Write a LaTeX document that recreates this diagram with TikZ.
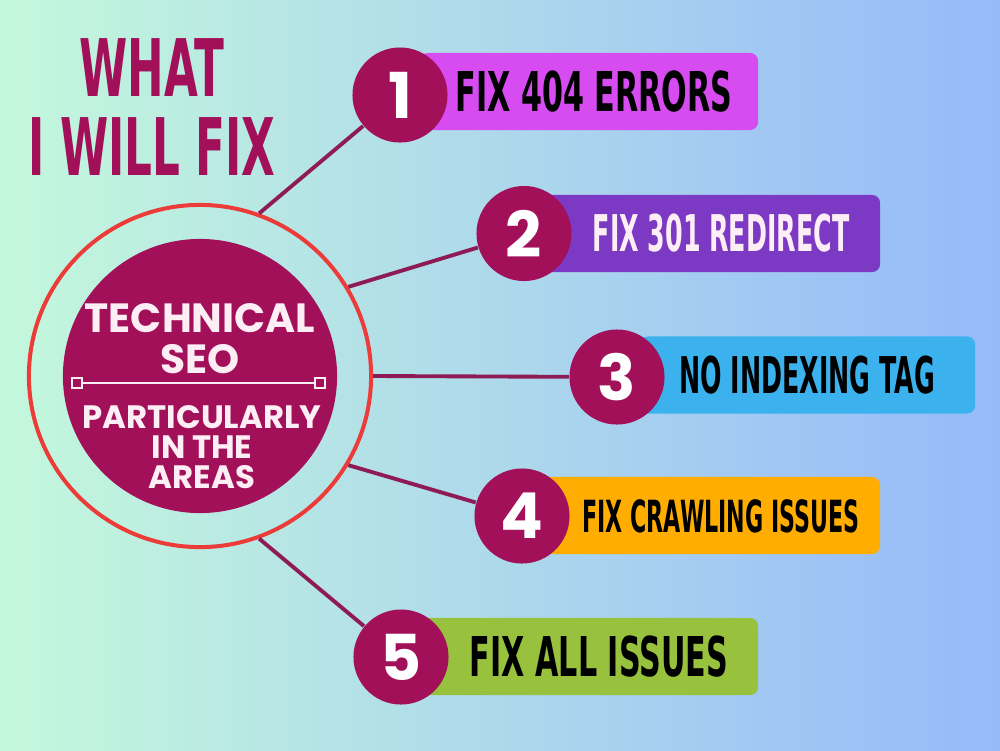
\documentclass[tikz,border=0pt]{standalone}
\usepackage{fontspec}
\setmainfont{Poppins}
\newfontfamily\headfont[FakeStretch=0.55]{DejaVu Sans}
\newfontfamily\slimfont[FakeStretch=0.5]{DejaVu Sans}
\usepackage {tikz}
\usetikzlibrary {positioning}

\definecolor{bgleft}{RGB}{196,248,220}
\definecolor{bgright}{RGB}{150,185,250}
\definecolor{seored}{RGB}{163,16,90}
\definecolor{seowire}{RGB}{142,26,86}
\definecolor{seoring}{RGB}{236,60,58}
\definecolor{seopale}{RGB}{253,238,245}
\definecolor{barone}{RGB}{214,76,240}
\definecolor{bartwo}{RGB}{124,58,196}
\definecolor{barthree}{RGB}{59,178,238}
\definecolor{barfour}{RGB}{255,173,0}
\definecolor{barfive}{RGB}{152,193,62}

\begin{document}
\begin{tikzpicture}[x=0.01cm,y=0.01cm,
	badge/.style={circle,fill=seored,minimum size=0.95cm,inner sep=0pt,text=white,font=\fontsize{18}{18}\selectfont\bfseries},
	bar/.style={rounded corners=0.08cm,minimum height=0.77cm,inner sep=0pt},
	tag/.style={inner sep=0pt,font=\headfont\bfseries\fontsize{#1}{#1}\selectfont},
	slimtag/.style={inner sep=0pt,font=\slimfont\bfseries\fontsize{#1}{#1}\selectfont},
	link/.style={draw=seowire,line width=1.1pt},
	tick/.style={draw=seopale,fill=seored,line width=0.75pt,minimum size=0.1cm,inner sep=0pt}]
	\useasboundingbox (0,0) rectangle (1000,750);
	\shade[left color=bgleft,right color=bgright] (0,0) rectangle (1000,750);
	% title
	\node[text=seored,align=center,inner sep=0pt,font=\headfont\bfseries\fontsize{22.6}{22.2}\selectfont] (what) at (152,643) {WHAT\\I WILL FIX};
	% hub
	\node[circle,draw=seoring,line width=1.14pt,minimum size=3.42cm] (ring) at (200,374) {};
	\node[circle,fill=seored,minimum size=2.74cm] (core) at (ring) {};
	\node[text=seopale,align=center,inner sep=0pt,font=\fontsize{11.6}{11.7}\selectfont\bfseries] (tech) at (200,411) {TECHNICAL\\SEO};
	\node[tick] (lt) at (77,367) {};
	\node[tick] (rt) at (320,367) {};
	\draw[seopale,line width=0.75pt] (lt) -- (rt);
	\node[text=seopale,align=center,inner sep=0pt,font=\fontsize{9.2}{8.5}\selectfont\bfseries] (areas) at (202,303) {PARTICULARLY\\IN THE\\AREAS};
	% bars
	\node[bar,fill=barone,minimum width=3.38cm] (r1) at (589,658.5) {};
	\node[bar,fill=bartwo,minimum width=3.50cm] (r2) at (705,516.5) {};
	\node[bar,fill=barthree,minimum width=3.35cm] (r3) at (807.5,375) {};
	\node[bar,fill=barfour,minimum width=3.45cm] (r4) at (707.5,234.5) {};
	\node[bar,fill=barfive,minimum width=3.38cm] (r5) at (589,93.5) {};
	\node[tag=15.6] (t1) at (594,658) {FIX 404 ERRORS};
	\node[slimtag=14.4,text=seopale] (t2) at (721,517) {FIX 301 REDIRECT};
	\node[slimtag=14.4] (t3) at (807,375) {NO INDEXING TAG};
	\node[slimtag=12.6] (t4) at (721,234) {FIX CRAWLING ISSUES};
	\node[tag=15.6] (t5) at (599,93) {FIX ALL ISSUES};
	% badges
	\node[badge] (b1) at (400,655) {1};
	\node[badge] (b2) at (524,516.5) {2};
	\node[badge] (b3) at (617,373) {3};
	\node[badge] (b4) at (522,234) {4};
	\node[badge] (b5) at (401,93) {5};
	\draw[link] (ring.70) -- (b1) (ring.31) -- (b2) (ring.0) -- (b3) (ring.-31) -- (b4) (ring.-70) -- (b5);
\end{tikzpicture}
\end{document}
